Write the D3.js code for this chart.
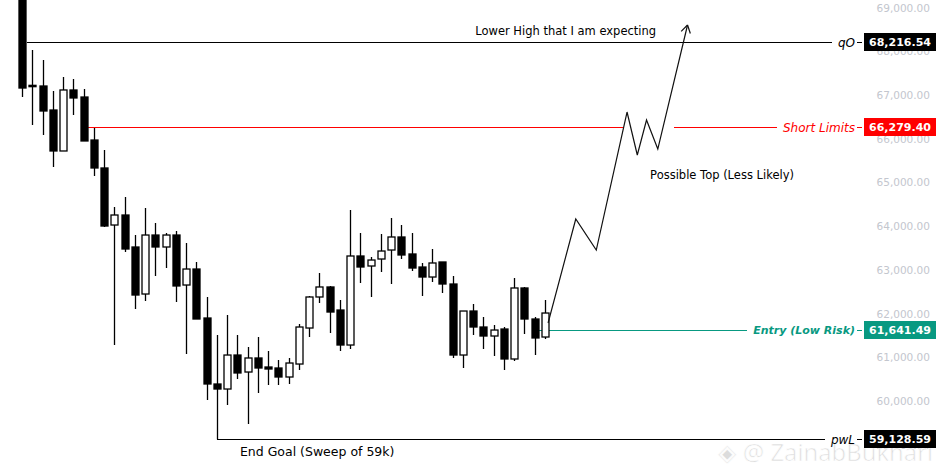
<!DOCTYPE html>
<html>
<head>
<meta charset="utf-8">
<script src="https://cdn.jsdelivr.net/npm/d3@7"></script>
<style>
  body { margin:0; background:#fff; }
  svg { display:block; font-family:"DejaVu Sans", Verdana, sans-serif; }
</style>
</head>
<body>
<div id="chart"></div>
<script>
// candles (one per bar)
var opens  = [69400,67230,67215,66666,65728,67124,66963,65979,65339,64034,64263,63531,62455,63805,63531,63805,62661,63027,61906,60396,60281,61059,60670,60991,60785,60762,60556,60853,61677,62387,62616,62089,61288,63325,63096,63256,63462,63760,63371,63073,62844,63188,62684,61059,62066,61700,61494,61654,60968,62593,61883,61471];
var highs  = [69600,68039,67810,67101,67421,67375,67146,66254,65751,64446,64675,63805,64423,64080,63851,63897,63622,63188,62387,61517,61975,61517,61243,61471,61151,60945,60991,61769,62410,62936,62639,62318,64378,63851,63302,63828,64195,64034,63851,63165,63485,63188,62867,62066,62227,61929,61746,61700,62822,62616,61929,62318];
var lows   = [66963,66323,66094,65362,65728,66551,65957,65156,63989,61288,63416,62112,62295,62867,63050,62272,61082,61883,60030,59128.59,59915,60510,59481,60190,60373,60373,60396,60716,61471,62250,61563,61151,61197,62707,62387,62959,62684,63256,62982,62410,62730,62478,60991,60762,61517,61197,61037,60716,60922,61540,61059,61426];
var closes = [67169,67200,66643,65728,67124,66941,65957,65339,64011,64263,63485,62432,63805,63531,63805,62639,63027,61883,60396,60281,61059,60648,60991,60762,60739,60556,60876,61700,62387,62616,62043,61288,63325,63073,63233,63439,63760,63348,63050,62844,63165,62684,61059,62066,61700,61494,61631,60968,62593,61883,61449,62020];

var yTicks = [69000,68000,67000,66000,65000,64000,63000,62000,61000,60000,59000];

// horizontal levels
var levelNames  = ["qO","Short Limits","Entry (Low Risk)","pwL"];
var levelPrices = [68216.54,66279.40,61641.49,59128.59];
var levelStart  = [0,6,50,19];      // bar where each level begins
var levelColors = ["#000000","#ff0000","#089981","#000000"];

// projected path (bar index, price)
var pathBars   = [51.3,54.0,56.0,59.0,60.0,60.9,62.0,64.9];
var pathPrices = [61792,64172,63462,66620,65636,66437,65773,68611];

var width = 940, height = 475;
var bodyW = 7;

var x = d3.scaleLinear().domain([0,51]).range([22,545]);
var y = d3.scaleLinear().domain([59000,69000]).range([445,8]);

var svg = d3.select('#chart').append('svg')
    .attr('width',width)
    .attr('height',height);

var fmt = d3.format(',.2f');

// price axis labels
svg.append('g').selectAll('text')
    .data(yTicks)
    .enter()
    .append('text')
    .attr('x',930)
    .attr('y',function(d){ return y(d);})
    .attr('dy','0.35em')
    .attr('text-anchor','end')
    .style('font-size','10.5px')
    .style('fill','#c3c6ce')
    .text(function(d){ return fmt(d);});

var bars = d3.range(opens.length);

// watermark (sits under the price boxes)
svg.append('text')
    .attr('x',933)
    .attr('y',461)
    .attr('text-anchor','end')
    .style('font-size','24px')
    .style('font-family','"Open Sans", sans-serif')
    .style('fill','#d9d9d9')
    .style('stroke','#fff')
    .style('stroke-width',0.7)
    .style('opacity',0.9)
    .text("\u25C8 @ ZainabBukhari");

// levels
var labelRight = 855;
var levels = svg.append('g');
levelNames.forEach(function(name,i){
    var py = Math.round(y(levelPrices[i]))+0.5;
    var t = levels.append('text')
	.attr('x',labelRight)
	.attr('y',py)
	.attr('dy','0.35em')
	.attr('text-anchor','end')
	.style('font-size', i==2 ? '11px' : '12px')
	.style('font-style','italic')
	.style('font-weight', i==2 ? 'bold' : 'normal')
	.style('fill',levelColors[i])
	.text(name);
    var tw = t.node().getComputedTextLength();
    var x0 = x(levelStart[i]) + (i==3 ? 0 : bodyW/2+1);
    var x1 = labelRight - tw - 6;
    var segs = (i==1) ? [[x0,x(58.6)],[x(63.6),x1]] : [[x0,x1]];
    segs.forEach(function(s){
	levels.append('line').attr('x1',s[0]).attr('x2',s[1]).attr('y1',py).attr('y2',py)
	    .attr('stroke',levelColors[i]).attr('stroke-width',1.1)
	    .attr('shape-rendering','crispEdges');
    });
    levels.append('line').attr('x1',857).attr('x2',862).attr('y1',py).attr('y2',py)
	.attr('stroke',levelColors[i]).attr('stroke-width',1);
    levels.append('rect')
	.attr('x',864).attr('y',py-9.5)
	.attr('width',72).attr('height',18)
	.style('fill',levelColors[i]);
    levels.append('text')
	.attr('x',931)
	.attr('y',py)
	.attr('dy','0.36em')
	.attr('text-anchor','end')
	.style('font-size','11px')
	.style('font-weight','bold')
	.style('fill','#fff')
	.text(fmt(levelPrices[i]));
});

// candles
var candles = svg.append('g');
candles.selectAll('line')
    .data(bars)
    .enter()
    .append('line')
    .attr('x1',function(i){ return Math.round(x(i))+0.5;})
    .attr('x2',function(i){ return Math.round(x(i))+0.5;})
    .attr('y1',function(i){ return y(highs[i]);})
    .attr('y2',function(i){ return y(lows[i]);})
    .attr('stroke','black')
    .attr('stroke-width',1.3);

candles.selectAll('rect')
    .data(bars)
    .enter()
    .append('rect')
    .attr('x',function(i){ return Math.round(x(i))+0.5-bodyW/2;})
    .attr('width',bodyW)
    .attr('y',function(i){ return y(Math.max(opens[i],closes[i]));})
    .attr('height',function(i){ return Math.max(1,Math.abs(y(opens[i])-y(closes[i])));})
    .attr('stroke','black')
    .attr('stroke-width',1.3)
    .style('fill',function(i){ return closes[i]>opens[i] ? 'white' : 'black';});

// projection
var pts = pathBars.map(function(b,i){ return [x(b),y(pathPrices[i])];});
svg.append('path')
    .attr('d',d3.line()(pts))
    .attr('fill','none')
    .attr('stroke','#111')
    .attr('stroke-width',1.2);

var tip = pts[pts.length-1], prev = pts[pts.length-2];
var ang = Math.atan2(tip[1]-prev[1],tip[0]-prev[0]);
[-0.55,0.55].forEach(function(a){
    svg.append('line')
	.attr('x1',tip[0]).attr('y1',tip[1])
	.attr('x2',tip[0]-9*Math.cos(ang+a)).attr('y2',tip[1]-9*Math.sin(ang+a))
	.attr('stroke','#111').attr('stroke-width',1.2);
});

// notes
var notes = [
    {t:"Lower High that I am expecting", b:44.2, p:68480, s:'11.5px'},
    {t:"Possible Top (Less Likely)", b:61.25, p:65190, s:'11.5px'},
    {t:"End Goal (Sweep of 59k)", b:21.25, p:58850, s:'12.5px'}
];
svg.append('g').selectAll('text')
    .data(notes)
    .enter()
    .append('text')
    .attr('x',function(d){ return x(d.b);})
    .attr('y',function(d){ return y(d.p);})
    .attr('dy','0.35em')
    .style('font-size',function(d){ return d.s;})
    .style('fill','#000')
    .text(function(d){ return d.t;});
</script>
</body>
</html>
